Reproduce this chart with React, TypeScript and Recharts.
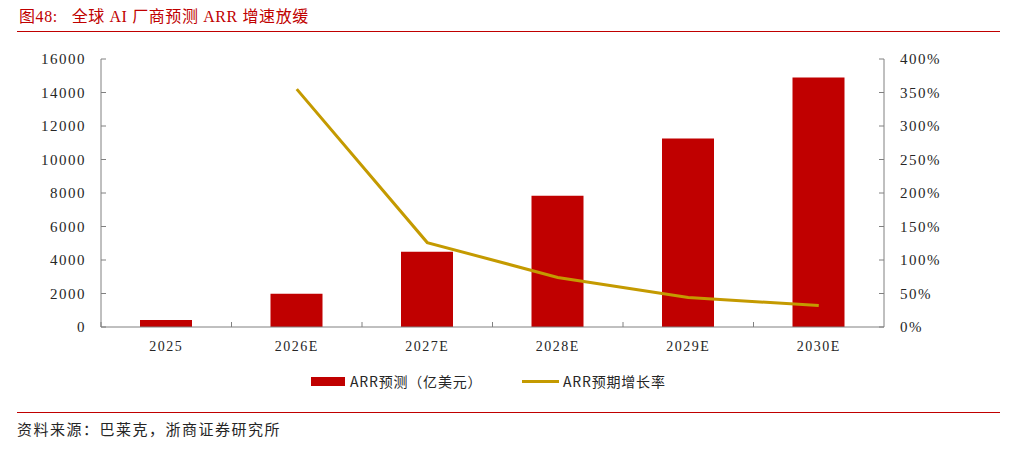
import React from 'react';
import {
  ComposedChart,
  Bar,
  Line,
  XAxis,
  YAxis,
} from 'recharts';

// values
const years = ['2025', '2026E', '2027E', '2028E', '2029E', '2030E'];
const arrForecast = [420, 1980, 4500, 7840, 11260, 14900];
const arrGrowth: (number | null)[] = [null, 355, 126, 74, 44, 32];
const leftTicks = [0, 2000, 4000, 6000, 8000, 10000, 12000, 14000, 16000];
const rightTicks = [0, 50, 100, 150, 200, 250, 300, 350, 400];

const data = years.map((year, i) => ({
  year,
  arr: arrForecast[i],
  growth: arrGrowth[i],
}));

const RED = '#C00000';
const GOLD = '#C49A00';
const AXIS = '#808080';
const FONT = '"Liberation Serif", "Noto Sans CJK SC", serif';
const CJK = '"Noto Sans CJK SC", sans-serif';

const XTick = (props: any) => {
  const { x, y, payload } = props;
  const half = payload && payload.offset ? payload.offset : 65.25;
  return (
    <g>
      <line x1={x - half} x2={x - half} y1={y} y2={y - 5} stroke={AXIS} strokeWidth={1} />
      <text
        x={x}
        y={y + 24}
        textAnchor="middle"
        fill="#262626"
        fontSize={14}
        fontFamily={FONT}
        letterSpacing={1.5}
      >
        {payload.value}
      </text>
    </g>
  );
};

export default function App() {
  return (
    <div
      style={{
        position: 'absolute',
        left: 0,
        top: 0,
        width: 1024,
        height: 461,
        background: '#ffffff',
        overflow: 'hidden',
      }}
    >
      <div
        style={{
          position: 'absolute',
          left: 19,
          top: 3,
          color: RED,
          fontFamily: FONT,
          fontSize: 16,
          letterSpacing: 0.6,
          whiteSpace: 'pre',
        }}
      >
        图48:   全球 AI 厂商预测 ARR 增速放缓
      </div>
      <div style={{ position: 'absolute', left: 17, top: 31, width: 983, height: 1, background: RED }} />

      <ComposedChart
        width={1024}
        height={461}
        data={data}
        margin={{ top: 59, right: 0, bottom: 104, left: 0 }}
        barSize={52}
      >
        <XAxis
          dataKey="year"
          stroke={AXIS}
          tickLine={false}
          tickSize={0}
          tickMargin={0}
          height={30}
          tick={<XTick />}
          interval={0}
        />
        <YAxis
          yAxisId="left"
          orientation="left"
          width={101}
          domain={[0, 16000]}
          ticks={leftTicks}
          interval={0}
          stroke={AXIS}
          tickSize={-5}
          tickMargin={20}
          tick={{ fill: '#262626', fontSize: 15, fontFamily: FONT, letterSpacing: 1.5 }}
        />
        <YAxis
          yAxisId="right"
          orientation="right"
          width={140}
          domain={[0, 400]}
          ticks={rightTicks}
          interval={0}
          stroke={AXIS}
          tickSize={-5}
          tickMargin={21}
          tickFormatter={(v: number) => `${v}%`}
          tick={{ fill: '#262626', fontSize: 15, fontFamily: FONT, letterSpacing: 1.5 }}
        />
        <Bar yAxisId="left" dataKey="arr" name="ARR预测（亿美元）" fill={RED} isAnimationActive={false} />
        <Line
          yAxisId="right"
          dataKey="growth"
          name="ARR预期增长率"
          stroke={GOLD}
          strokeWidth={3}
          dot={false}
          activeDot={false}
          type="linear"
          isAnimationActive={false}
        />
      </ComposedChart>

      {/* legend */}
      <div style={{ position: 'absolute', left: 311, top: 377, width: 34, height: 9, background: RED }} />
      <div
        style={{
          position: 'absolute',
          left: 350,
          top: 371,
          fontFamily: CJK,
          fontSize: 14,
          letterSpacing: 0.8,
          color: '#262626',
          whiteSpace: 'pre',
        }}
      >
        ARR预测（亿美元）
      </div>
      <div style={{ position: 'absolute', left: 522, top: 380, width: 37, height: 3, background: GOLD }} />
      <div
        style={{
          position: 'absolute',
          left: 563,
          top: 371,
          fontFamily: CJK,
          fontSize: 14,
          letterSpacing: 0.8,
          color: '#262626',
          whiteSpace: 'pre',
        }}
      >
        ARR预期增长率
      </div>

      <div style={{ position: 'absolute', left: 17, top: 412, width: 983, height: 1, background: RED }} />
      <div
        style={{
          position: 'absolute',
          left: 17,
          top: 418,
          fontFamily: CJK,
          fontSize: 15,
          letterSpacing: 1.5,
          color: '#262626',
        }}
      >
        资料来源：巴莱克，浙商证券研究所
      </div>
    </div>
  );
}
